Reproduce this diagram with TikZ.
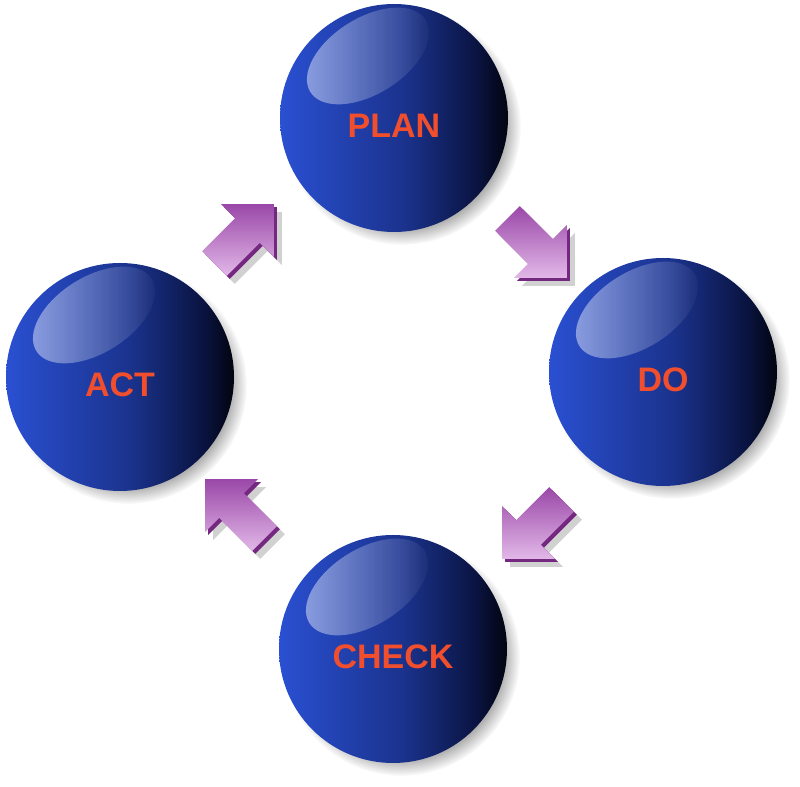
\documentclass[tikz,border=0pt]{standalone}
\usepackage{fontspec}
\setsansfont{Liberation Sans}
\usetikzlibrary{shapes.arrows,shadows,fadings}
\definecolor{orbL}{HTML}{2A50D2}
\definecolor{orbM}{HTML}{1B338E}
\definecolor{orbD}{HTML}{0A1442}
\definecolor{orbK}{HTML}{02040F}
\definecolor{tomato}{HTML}{F04E2C}
\definecolor{plum}{HTML}{9A48A8}
\definecolor{lilac}{HTML}{E2B8E8}
\definecolor{plumside}{HTML}{74287F}
\pgfdeclarehorizontalshading{orb}{100bp}{color(0bp)=(orbL); color(25bp)=(orbL); color(52bp)=(orbM); color(68bp)=(orbD); color(75bp)=(orbK); color(100bp)=(orbK)}
\tikzfading[name=glint, left color=transparent!52, right color=transparent!100]
\begin{document}
\begin{tikzpicture}[x=0.5pt,y=0.5pt,
orb/.style={circle,minimum size=114pt,shading=orb,text=tomato,font=\sffamily\bfseries\fontsize{17}{17}\selectfont,text height=20pt,text depth=0pt,
  drop shadow={shadow xshift=4pt,shadow yshift=-4pt,shadow scale=1.04,fill=black,opacity=.45,path fading=circle with fuzzy edge 20 percent}},
blk/.style={single arrow,single arrow tip angle=90,single arrow head extend=10pt,single arrow head indent=0pt,inner sep=8.5pt,minimum height=42pt,
  drop shadow={shadow xshift=4pt,shadow yshift=-4pt,fill=black,opacity=.18},
  general shadow={fill=plumside,shadow xshift=1.5pt,shadow yshift=-1.5pt},
  top color=plum,bottom color=lilac},
shine/.style={white,path fading=glint}]
\useasboundingbox (0,0) rectangle (800,787);
% spheres
\node[orb] (plan) at (394,669) {PLAN};
\node[orb] (do) at (663,415) {DO};
\node[orb] (check) at (393,138) {CHECK};
\node[orb] (act) at (120,410) {ACT};
\foreach \s in {plan,do,check,act}
  \fill[shine] ([shift={(-26,62)}]\s.center) ellipse [x radius=34pt,y radius=19pt,rotate=32];
% block arrows
\node[blk,rotate=45] (a1) at (238,547) {};
\node[blk,rotate=-45] (a2) at (531,545) {};
\node[blk,rotate=-135] (a3) at (538,264) {};
\node[blk,rotate=135] (a4) at (241,272) {};
\end{tikzpicture}
\end{document}
